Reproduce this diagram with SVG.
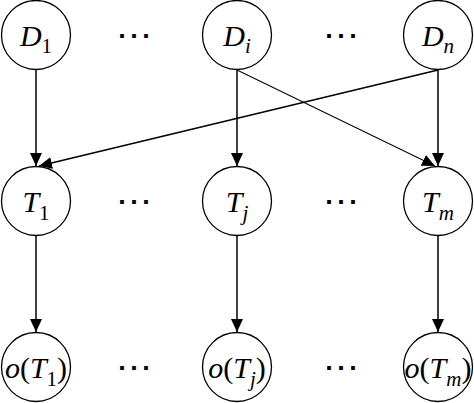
<svg xmlns="http://www.w3.org/2000/svg" width="474" height="403" viewBox="0 0 474 403">
<style>
.n{fill:#fff;stroke:#000;stroke-width:1.3}
.t{font-family:"Liberation Serif","Times New Roman",serif;font-size:30px;font-style:italic;text-anchor:middle;fill:#000}
.s{font-size:21px}
.u{font-style:normal}
.e{stroke:#000;stroke-width:1.5;fill:none}
.dots{font-family:"Liberation Serif","DejaVu Serif",serif;font-size:36px;text-anchor:middle;fill:#000}
</style>
<defs>
<marker id="a" markerUnits="userSpaceOnUse" markerWidth="14" markerHeight="12" refX="13" refY="6" orient="auto"><path d="M0,0 L13,6 L0,12 z" fill="#000"/></marker>
</defs>
<g id="connectors">
<line class="e" x1="36" y1="70" x2="36" y2="166" marker-end="url(#a)"/>
<line class="e" x1="237" y1="70" x2="237" y2="166" marker-end="url(#a)"/>
<line class="e" x1="438" y1="70" x2="438" y2="166" marker-end="url(#a)"/>
<line class="e" x1="438" y1="70" x2="39" y2="166" marker-end="url(#a)"/>
<line class="e" style="stroke-width:1.1" x1="237" y1="70" x2="435" y2="166" marker-end="url(#a)"/>
<line class="e" x1="36" y1="236" x2="36" y2="332" marker-end="url(#a)"/>
<line class="e" x1="237" y1="236" x2="237" y2="332" marker-end="url(#a)"/>
<line class="e" x1="438" y1="236" x2="438" y2="332" marker-end="url(#a)"/>
</g>
<g id="D1"><circle class="n" cx="36" cy="35" r="34.5"/><text class="t" x="36" y="46">D<tspan class="s u" dy="7">1</tspan></text></g>
<g id="Di"><circle class="n" cx="237" cy="35" r="34.5"/><text class="t" x="237" y="46">D<tspan class="s" dy="7">i</tspan></text></g>
<g id="Dn"><circle class="n" cx="438" cy="35" r="34.5"/><text class="t" x="438" y="46">D<tspan class="s" dy="7">n</tspan></text></g>
<g id="T1"><circle class="n" cx="36" cy="201" r="34.5"/><text class="t" x="36" y="212">T<tspan class="s u" dy="8">1</tspan></text></g>
<g id="Tj"><circle class="n" cx="237" cy="201" r="34.5"/><text class="t" x="237" y="212">T<tspan class="s" dy="8">j</tspan></text></g>
<g id="Tm"><circle class="n" cx="438" cy="201" r="34.5"/><text class="t" x="438" y="212">T<tspan class="s" dy="8">m</tspan></text></g>
<g id="oT1"><circle class="n" cx="36" cy="367" r="34.5"/><text class="t" x="36" y="378">o<tspan class="u">(</tspan>T<tspan class="s u" dy="8">1</tspan><tspan class="u" dy="-8">)</tspan></text></g>
<g id="oTj"><circle class="n" cx="237" cy="367" r="34.5"/><text class="t" x="237" y="378">o<tspan class="u">(</tspan>T<tspan class="s" dy="8">j</tspan><tspan class="u" dy="-8">)</tspan></text></g>
<g id="oTm"><circle class="n" cx="438" cy="367" r="34.5"/><text class="t" x="438" y="378">o<tspan class="u">(</tspan>T<tspan class="s" dy="8">m</tspan><tspan class="u" dy="-8">)</tspan></text></g>
<g id="ellipses">
<text class="dots" x="134" y="48">⋯</text><text class="dots" x="341" y="48">⋯</text>
<text class="dots" x="134" y="214">⋯</text><text class="dots" x="341" y="214">⋯</text>
<text class="dots" x="134" y="380">⋯</text><text class="dots" x="341" y="380">⋯</text>
</g>
</svg>
